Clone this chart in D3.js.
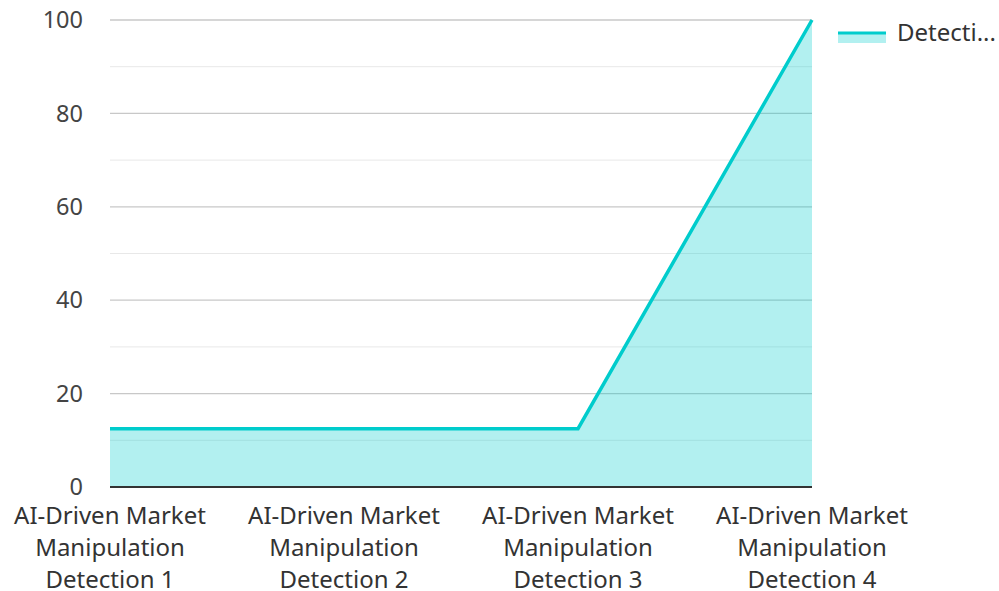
<!DOCTYPE html>
<html>
<head>
<meta charset="utf-8">
<script src="https://cdn.jsdelivr.net/npm/d3@7"></script>
<style>
  body { margin: 0; background: #fff; }
  text { font-family: "Noto Sans", "Open Sans", sans-serif; }
</style>
</head>
<body>
<div class="chart-wrapper"></div>
<script>
const categories = [
  ["AI-Driven Market", "Manipulation", "Detection 1"],
  ["AI-Driven Market", "Manipulation", "Detection 2"],
  ["AI-Driven Market", "Manipulation", "Detection 3"],
  ["AI-Driven Market", "Manipulation", "Detection 4"]
]
const values = [12.5, 12.5, 12.5, 100]
const seriesName = "Detecti..."
const yTicks = [0, 20, 40, 60, 80, 100]
const yMinor = [10, 30, 50, 70, 90]

const width = 999, height = 591
const margin = {top: 20, right: 187, bottom: 104, left: 110}

const svg = d3.select(".chart-wrapper")
  .append("svg")
  .attr("width", width)
  .attr("height", height)

let x = d3.scalePoint()
  .domain(d3.range(categories.length))
  .range([margin.left, width - margin.right])

let y = d3.scaleLinear()
  .domain([0, 100])
  .range([height - margin.bottom, margin.top])

// grid
svg.append("g").selectAll("line.minor")
  .data(yMinor).enter().append("line")
  .attr("x1", margin.left).attr("x2", width - margin.right)
  .attr("y1", d => y(d)).attr("y2", d => y(d))
  .attr("stroke", "#e8e8e8").attr("stroke-width", 1)

svg.append("g").selectAll("line.major")
  .data(yTicks.filter(d => d > 0)).enter().append("line")
  .attr("x1", margin.left).attr("x2", width - margin.right)
  .attr("y1", d => y(d)).attr("y2", d => y(d))
  .attr("stroke", "#c8c8c8").attr("stroke-width", 1.3)

// y labels
svg.append("g").selectAll("text")
  .data(yTicks).enter().append("text")
  .attr("x", 83)
  .attr("y", d => y(d))
  .attr("dy", "0.35em")
  .attr("text-anchor", "end")
  .attr("font-size", 23.5)
  .attr("fill", "#444")
  .text(d => d)

let area = d3.area()
  .x((d, i) => x(i))
  .y0(y(0))
  .y1(d => y(d))

let line = d3.line()
  .x((d, i) => x(i))
  .y(d => y(d))

svg.append("path")
  .datum(values)
  .attr("d", area)
  .attr("fill", "rgba(0, 204, 204, 0.3)")

svg.append("path")
  .datum(values)
  .attr("d", line)
  .attr("fill", "none")
  .attr("stroke", "#00cccc")
  .attr("stroke-width", 3.5)

// baseline
svg.append("line")
  .attr("x1", margin.left).attr("x2", width - margin.right)
  .attr("y1", y(0)).attr("y2", y(0))
  .attr("stroke", "#333").attr("stroke-width", 2)

// x labels
let xl = svg.append("g").selectAll("text")
  .data(categories).enter().append("text")
  .attr("x", (d, i) => x(i))
  .attr("text-anchor", "middle")
  .attr("font-size", 24)
  .attr("fill", "#333")

xl.selectAll("tspan")
  .data(d => d).enter().append("tspan")
  .attr("x", function() { return d3.select(this.parentNode).attr("x") })
  .attr("y", (d, j) => 524 + j * 32)
  .text(d => d)

// legend
let lg = svg.append("g")
lg.append("rect")
  .attr("x", 838).attr("y", 33)
  .attr("width", 48).attr("height", 10)
  .attr("fill", "rgba(0, 204, 204, 0.3)")
lg.append("line")
  .attr("x1", 838).attr("x2", 886)
  .attr("y1", 33).attr("y2", 33)
  .attr("stroke", "#00cccc").attr("stroke-width", 3)
lg.append("text")
  .attr("x", 897).attr("y", 33)
  .attr("dy", "0.35em")
  .attr("font-size", 24)
  .attr("fill", "#333")
  .text(seriesName)
</script>
</body>
</html>
